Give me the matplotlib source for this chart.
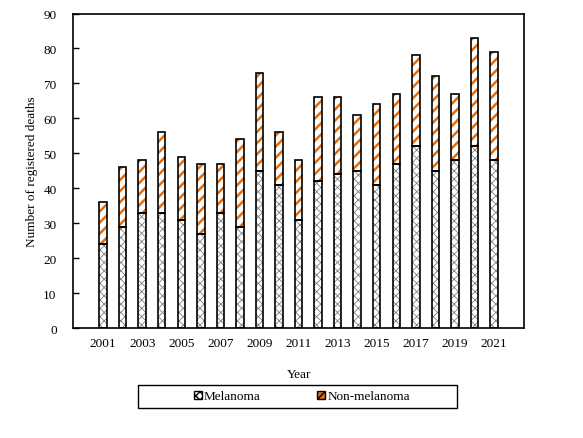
import numpy as np
import matplotlib.pyplot as plt
from matplotlib.patches import Patch, Rectangle

plt.rcParams['font.family'] = ['Liberation Serif', 'DejaVu Serif']

years = np.arange(2001, 2022)
melanoma = [24, 29, 33, 33, 31, 27, 33, 29, 45, 41, 31, 42, 44, 45, 41, 47, 52, 45, 48, 52, 48]
total = [36, 46, 48, 56, 49, 47, 47, 54, 73, 56, 48, 66, 66, 61, 64, 67, 78, 72, 67, 83, 79]
non_melanoma = [t - m for t, m in zip(total, melanoma)]

gray_hatch = '#808080'
orange = '#E46C0A'
w = 0.38
fs = 9.5


def hatched_bars(ax, x, h, bottom, hatch, hcolor, hlw):
    with plt.rc_context({'hatch.linewidth': hlw}):
        bars = ax.bar(x, h, w, bottom=bottom, color='white', edgecolor=hcolor,
                      hatch=hatch, linewidth=0, zorder=2)
        for b in bars:
            if hasattr(b, 'set_hatch_linewidth'):
                b.set_hatch_linewidth(hlw)
    ax.bar(x, h, w, bottom=bottom, fill=False, edgecolor='black', linewidth=1.2, zorder=3)


fig = plt.figure(figsize=(5.83, 4.39), dpi=100)
ax = fig.add_axes([73.3 / 583, 1 - 329.3 / 439, (524 - 73.3) / 583, (329.3 - 14.5) / 439])

hatched_bars(ax, years, melanoma, 0, 'xxxx', gray_hatch, 0.6)
hatched_bars(ax, years, non_melanoma, melanoma, '///', orange, 1.8)

ax.set_ylim(0, 90)
ax.set_xlim(2001 - 1.52, 2021 + 1.53)
ax.set_yticks(range(0, 91, 10))
ax.set_xticks(years[::2])
ax.tick_params(axis='y', direction='in', length=4, width=1, labelsize=fs, pad=12)
ax.tick_params(axis='x', length=0, labelsize=fs, pad=6)
for s in ax.spines.values():
    s.set_linewidth(1.2)

ax.set_ylabel('Number of registered deaths', fontsize=fs, labelpad=4)
ax.set_xlabel('Year', fontsize=fs, labelpad=14)

# legend box
fig.patches.append(Rectangle((138 / 583, 1 - 409 / 439), (457 - 138) / 583, 23 / 439,
                             transform=fig.transFigure, fill=False, edgecolor='black',
                             linewidth=1.0))
with plt.rc_context({'hatch.linewidth': 0.6}):
    h1 = Patch(facecolor='white', edgecolor='black', hatch='xxxx', linewidth=1)
with plt.rc_context({'hatch.linewidth': 1.5}):
    h2 = Patch(facecolor=orange, edgecolor='black', hatch='////', linewidth=1)
fig.legend([h1, h2], ['Melanoma', 'Non-melanoma'], ncol=2,
           loc='center', bbox_to_anchor=(302 / 583, 1 - 397.5 / 439),
           fontsize=fs, frameon=False,
           handlelength=0.6, handleheight=0.6, handletextpad=0.15,
           columnspacing=4.3, borderpad=0.2)

fig.savefig('out.png', dpi=100)
